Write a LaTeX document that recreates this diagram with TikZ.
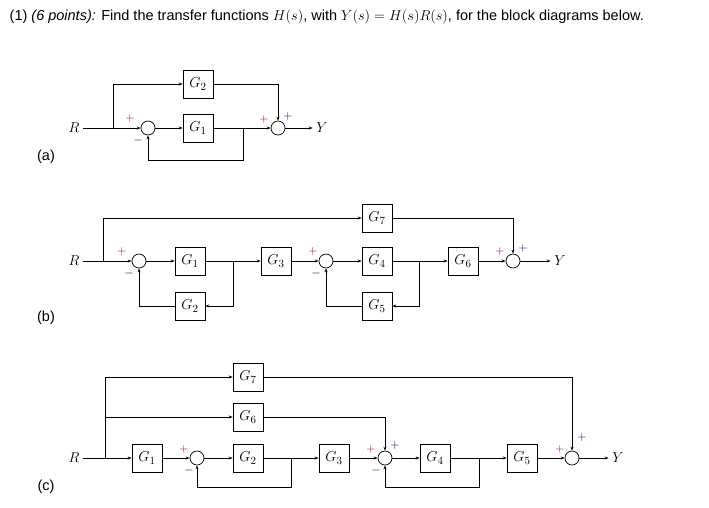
\documentclass[tikz,border=0pt]{standalone}
\usepackage{fontspec}
\setsansfont{Liberation Sans}
\usetikzlibrary{arrows.meta}
\begin{document}
\begin{tikzpicture}[x=1pt,y=-1pt,
  every node/.style={font=\fontsize{15}{17}\selectfont},
  blk/.style={draw,minimum width=30pt,minimum height=28pt,inner sep=0pt},
  sm/.style={draw,circle,minimum size=14pt,inner sep=0pt},
  sig/.style={-{Stealth[length=4pt,width=3pt]}},
  pl/.style={font=\fontsize{13}{15}\selectfont,text=red!60!black},
  pt/.style={font=\fontsize{13}{15}\selectfont,text=blue!40!black},
  mi/.style={font=\fontsize{13}{15}\selectfont},
  sf/.style={font=\sffamily\fontsize{14.5}{17}\selectfont}]
\useasboundingbox (0,0) rectangle (709,507);
\tikzset{every path/.style={line width=0.7pt}}
\node[sf,anchor=west] (title) at (6,17) {(1) \textit{(6 points):} Find the transfer functions $H(s)$, with $Y(s)=H(s)R(s)$, for the block diagrams below.};
% (a)
\node[sf] (la) at (46,157) {(a)};
\node (aR) at (74,128) {$R$};
\node[sm] (as1) at (148,128) {};
\node[blk] (aG1) at (198,128) {$G_1$};
\node[blk] (aG2) at (198,84) {$G_2$};
\node[sm] (as2) at (278,128) {};
\node (aY) at (322,128) {$Y$};
\coordinate (ab) at (113,128);
\coordinate (af) at (243,128);
\draw (aR) -- (ab);
\draw[sig] (ab) -- (as1);
\draw[sig] (ab) |- (aG2);
\draw[sig] (as1) -- (aG1);
\draw (aG1) -- (af);
\draw[sig] (af) -- (as2);
\draw[sig] (af) -- (243,160) -| (as1);
\draw[sig] (aG2) -| (as2);
\draw[sig] (as2) -- (aY);
\node[pl] at (130,118) {$+$};
\node[mi] at (138,140) {$-$};
\node[pl] at (264,119) {$+$};
\node[pt] at (288,116) {$+$};
% (b)
\node[sf] (lb) at (46,318) {(b)};
\node (bR) at (74,261) {$R$};
\node[sm] (bs1) at (139,261) {};
\node[blk] (bG1) at (190,261) {$G_1$};
\node[blk] (bG2) at (190,306) {$G_2$};
\node[blk] (bG3) at (276,261) {$G_3$};
\node[sm] (bs2) at (326,261) {};
\node[blk] (bG4) at (377,261) {$G_4$};
\node[blk] (bG5) at (377,306) {$G_5$};
\node[blk] (bG6) at (463,261) {$G_6$};
\node[blk] (bG7) at (377,218) {$G_7$};
\node[sm] (bs3) at (513,261) {};
\node (bY) at (560,261) {$Y$};
\coordinate (bb) at (103,261);
\coordinate (bf1) at (233,261);
\coordinate (bf2) at (419,261);
\draw (bR) -- (bb);
\draw[sig] (bb) -- (bs1);
\draw[sig] (bb) |- (bG7);
\draw[sig] (bs1) -- (bG1);
\draw (bG1) -- (bf1);
\draw[sig] (bf1) -- (bG3);
\draw[sig] (bf1) |- (bG2);
\draw[sig] (bG2) -| (bs1);
\draw[sig] (bG3) -- (bs2);
\draw[sig] (bs2) -- (bG4);
\draw (bG4) -- (bf2);
\draw[sig] (bf2) -- (bG6);
\draw[sig] (bf2) |- (bG5);
\draw[sig] (bG5) -| (bs2);
\draw[sig] (bG6) -- (bs3);
\draw[sig] (bG7) -| (bs3);
\draw[sig] (bs3) -- (bY);
\node[pl] at (122,251) {$+$};
\node[mi] at (129,273) {$-$};
\node[pl] at (313,251) {$+$};
\node[mi] at (316,273) {$-$};
\node[pl] at (500,251) {$+$};
\node[pt] at (523,248) {$+$};
% (c)
\node[sf] (lc) at (46,487) {(c)};
\node (cR) at (74,458) {$R$};
\node[blk] (cG1) at (147,458) {$G_1$};
\node[sm] (cs1) at (197,458) {};
\node[blk] (cG2) at (248,458) {$G_2$};
\node[blk] (cG6) at (248,417) {$G_6$};
\node[blk] (cG7) at (248,377) {$G_7$};
\node[blk] (cG3) at (334,458) {$G_3$};
\node[sm] (cs2) at (385,458) {};
\node[blk] (cG4) at (435,458) {$G_4$};
\node[blk] (cG5) at (522,458) {$G_5$};
\node[sm] (cs3) at (572,458) {};
\node (cY) at (618,458) {$Y$};
\coordinate (cb) at (105,458);
\coordinate (cf1) at (291,458);
\coordinate (cf2) at (479,458);
\draw (cR) -- (cb);
\draw[sig] (cb) -- (cG1);
\draw[sig] (cb) |- (cG7);
\draw[sig] (105,417) -- (cG6);
\draw[sig] (cG1) -- (cs1);
\draw[sig] (cs1) -- (cG2);
\draw (cG2) -- (cf1);
\draw[sig] (cf1) -- (cG3);
\draw[sig] (cf1) -- (291,487) -| (cs1);
\draw[sig] (cG3) -- (cs2);
\draw[sig] (cG6) -| (cs2);
\draw[sig] (cs2) -- (cG4);
\draw (cG4) -- (cf2);
\draw[sig] (cf2) -- (cG5);
\draw[sig] (cf2) -- (479,487) -| (cs2);
\draw[sig] (cG5) -- (cs3);
\draw[sig] (cG7) -| (cs3);
\draw[sig] (cs3) -- (cY);
\node[pl] at (184,449) {$+$};
\node[mi] at (189,470) {$-$};
\node[pl] at (371,449) {$+$};
\node[pt] at (395,445) {$+$};
\node[mi] at (376,470) {$-$};
\node[pl] at (560,449) {$+$};
\node[pt] at (582,437) {$+$};
\end{tikzpicture}
\end{document}
